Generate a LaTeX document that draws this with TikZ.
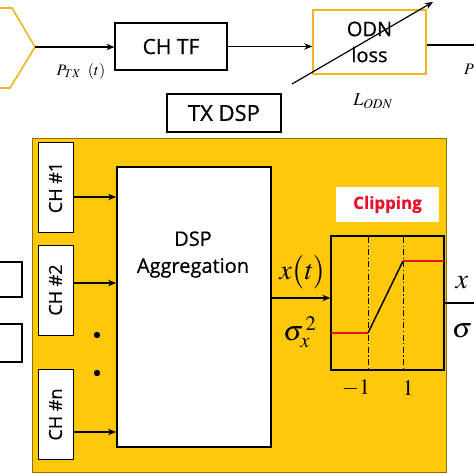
\documentclass[tikz,border=0pt]{standalone}
\usepackage{mathptmx}
\usepackage{fontspec}
\usepackage{graphicx}
\setsansfont{Open Sans}[FakeBold=0.6]
\usetikzlibrary{arrows.meta}
\definecolor{yfill}{HTML}{FFC90A}
\definecolor{yedge}{HTML}{8A7400}
\definecolor{orng}{HTML}{F2B325}
\definecolor{clipred}{HTML}{E8102A}
\newcommand{\fsz}[1]{\fontsize{#1}{#1}\selectfont}
\begin{document}
\begin{tikzpicture}[x=1pt,y=-1pt,
  arr/.style={-{Stealth[length=8pt,width=6.5pt]}, line width=1.2pt},
  blk/.style={draw=black, line width=1.2pt, fill=white, inner sep=0pt, font=\sffamily\fsz{20}},
  chbox/.style={blk, line width=1pt, minimum width=35pt, minimum height=90pt, font=\sffamily\fsz{18}},
  mth/.style={inner sep=0pt},
  dashdotline/.style={line width=1pt, dash pattern=on 6pt off 2.5pt on 1.2pt off 2.5pt}
]
\useasboundingbox (0,0) rectangle (474,474);
\clip (0,0) rectangle (474,474);
\fill[white] (0,0) rectangle (474,474);

% yellow TX DSP panel
\fill[yfill, draw=yedge, line width=0.8pt] (32,138) rectangle (446,472);

% chevron on the left
\draw[orng, line width=1.6pt, line join=miter] (-5,8) -- (12,8) -- (35,47) -- (10,88) -- (-5,88);
\coordinate (chev) at (35,47);

% top chain
\node[blk, minimum width=112pt, minimum height=47pt, font=\sffamily\fsz{21}] (chtf) at (171,46.5) {CH TF};
\node[blk, draw=orng, line width=1.6pt, minimum width=113pt, minimum height=64pt, align=center, font=\sffamily\fontsize{20}{26}\selectfont] (odn) at (369.5,42) {ODN\\loss};
\node[blk, line width=1.8pt, minimum width=114pt, minimum height=38pt, font=\sffamily\fsz{22}] (txdsp) at (224,113) {TX DSP};
\coordinate (odnout) at (480,45);
\coordinate (d1) at (292,84);
\coordinate (d2) at (433,2);

\draw[arr] (chev) -- (chev -| chtf.west);
\draw[arr] (chtf.east) -- (chtf.east -| odn.west);
\draw[line width=1.2pt] ([yshift=-3pt]odn.east) -- (odnout);
\draw[arr] (d1) -- (d2);

\node[mth, font=\fsz{16}] (ptx) at (81,71) {$P_{TX}\ \,(t)$};
\node[mth, font=\fsz{18}] (lodn) at (373,101) {$L_{ODN}$};
\node[mth, font=\fsz{16}, anchor=west] (pr) at (464,69) {$P$};

% left partial boxes
\node[draw, line width=1.5pt, minimum width=30pt, minimum height=35pt, inner sep=0pt] (lb1) at (7,279.5) {};
\node[draw, line width=1.5pt, minimum width=30pt, minimum height=38pt, inner sep=0pt] (lb2) at (7,343) {};

% channel boxes
\node[chbox] (ch1) at (55.5,187.5) {\rotatebox{90}{CH \#1}};
\node[chbox] (ch2) at (55.5,290) {\rotatebox{90}{CH \#2}};
\node[chbox] (chn) at (55.5,414.5) {\rotatebox{90}{CH \#n}};
\fill (97,335) circle (3.2pt);
\fill (97,373) circle (3.2pt);

% DSP aggregation
\node[blk, line width=1.8pt, minimum width=154pt, minimum height=280pt] (dsp) at (194,307) {};
\node[align=center, inner sep=0pt, font=\sffamily\fontsize{20}{27}\selectfont] (dsptxt) at (193,254.5) {DSP\\Aggregation};

\draw[arr] ([yshift=-9.5pt]ch1.east) -- ([yshift=-9.5pt]ch1.east -| dsp.west);
\draw[arr] ([yshift=7pt]ch2.east) -- ([yshift=7pt]ch2.east -| dsp.west);
\draw[arr] ([yshift=-17.5pt]chn.east) -- ([yshift=-17.5pt]chn.east -| dsp.west);

% clipping
\node[fill=white, minimum width=103pt, minimum height=35pt, inner sep=0pt, text=clipred, font=\sffamily\bfseries\fsz{17}] (cliplbl) at (387.5,204.5) {Clipping};
\node[draw, line width=1.3pt, minimum width=113pt, minimum height=134pt, inner sep=0pt] (clip) at (387.5,303) {};
\draw[dashdotline] (368,237) -- (368,369);
\draw[dashdotline] (403,237) -- (403,369);
\draw[clipred, line width=1.2pt] (331,333) -- (368,333);
\draw[line width=1.5pt] (368,333) -- (403,261);
\draw[clipred, line width=1.2pt] (403,261) -- (444,261);
\node[mth, font=\fsz{22}] (m1) at (356,388) {$-1$};
\node[mth, font=\fsz{22}] (p1) at (408,388) {$1$};

\draw[arr] ([yshift=9pt]dsp.east) -- ([yshift=9pt]dsp.east -| clip.west);
\node[mth, font=\fsz{28}] (xt) at (303,272) {$x\bigl(t\bigr)$};
\node[mth, font=\fsz{28}] (sig) at (300,332) {$\sigma_x^{\,2}$};

\coordinate (outr) at (480,303);
\draw[line width=1.2pt] (clip.east) -- (outr);
\node[mth, font=\fsz{28}] (xr) at (462,283) {$x$};
\node[mth, font=\fsz{28}] (sr) at (462,331) {$\sigma$};
\end{tikzpicture}
\end{document}
